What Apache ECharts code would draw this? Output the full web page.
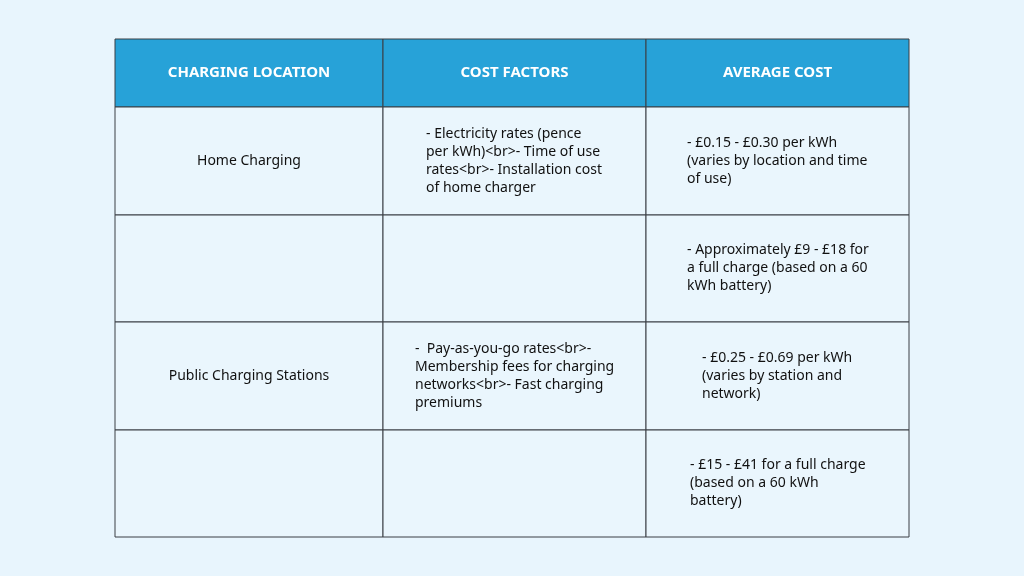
<!DOCTYPE html>
<html>
<head>
<meta charset="utf-8">
<script src="https://cdn.jsdelivr.net/npm/echarts@6/dist/echarts.min.js"></script>
<style>html,body{margin:0;padding:0;background:#e8f5fd;}#main{width:1024px;height:576px;}</style>
</head>
<body>
<div id="main"></div>
<script>
	// table content
	var headers = ['CHARGING LOCATION', 'COST FACTORS', 'AVERAGE COST'];
	var locations = ['Home Charging', '', 'Public Charging Stations', ''];
	var factors = [
		'- Electricity rates (pence\nper kWh)<br>- Time of use\nrates<br>- Installation cost\nof home charger',
		'',
		'-  Pay-as-you-go rates<br>-\nMembership fees for charging\nnetworks<br>- Fast charging\npremiums',
		''
	];
	var costs = [
		'- £0.15 - £0.30 per kWh\n(varies by location and time\nof use)',
		'- Approximately £9 - £18 for\na full charge (based on a 60\nkWh battery)',
		'- £0.25 - £0.69 per kWh\n(varies by station and\nnetwork)',
		'- £15 - £41 for a full charge\n(based on a 60 kWh\nbattery)'
	];
	var colEdges = [0, 268, 531, 794];
	var rowEdges = [0, 68, 176, 283, 391, 498];

	var font = '14px "Noto Sans", sans-serif';
	var ctx = document.createElement('canvas').getContext('2d');
	ctx.font = font;
	function blockWidth(s) {
		var w = 0;
		s.split('\n').forEach(function (l) { w = Math.max(w, ctx.measureText(l).width); });
		return w;
	}

	// one item per cell: [col, row, text]
	var cells = [];
	headers.forEach(function (h, c) { cells.push([c, 0, h]); });
	for (var r = 0; r < locations.length; r++) {
		cells.push([0, r + 1, locations[r]]);
		cells.push([1, r + 1, factors[r]]);
		cells.push([2, r + 1, costs[r]]);
	}

	var chart = echarts.init(document.getElementById('main'));
	chart.setOption({
		backgroundColor: '#e8f5fd',
		grid: { left: 115, right: 115, top: 39, bottom: 39 },
		xAxis: { type: 'value', min: 0, max: 794, show: false },
		yAxis: { type: 'value', min: 0, max: 498, inverse: true, show: false },
		series: [{
			type: 'custom',
			data: cells,
			renderItem: function (params, api) {
				var c = api.value(0), r = api.value(1), txt = cells[params.dataIndex][2];
				var p0 = api.coord([colEdges[c], rowEdges[r]]);
				var p1 = api.coord([colEdges[c + 1], rowEdges[r + 1]]);
				var head = r === 0;
				var cx = (p0[0] + p1[0]) / 2, cy = (p0[1] + p1[1]) / 2;
				var multi = txt.indexOf('\n') >= 0;
				var tx = multi ? Math.round(cx - blockWidth(txt) / 2) : cx;
				return {
					type: 'group',
					children: [{
						type: 'rect',
						shape: { x: p0[0], y: p0[1], width: p1[0] - p0[0], height: p1[1] - p0[1] },
						style: { fill: head ? '#27a2d8' : '#eaf6fd', stroke: '#3a3f45', lineWidth: 1 }
					}, {
						type: 'text',
						x: tx, y: cy,
						style: {
							text: txt,
							fill: head ? '#ffffff' : '#111111',
							font: head ? 'bold 15px "Noto Sans", sans-serif' : font,
							align: multi ? 'left' : 'center',
							verticalAlign: 'middle',
							lineHeight: 18
						}
					}]
				};
			}
		}]
	});
</script>
</body>
</html>
